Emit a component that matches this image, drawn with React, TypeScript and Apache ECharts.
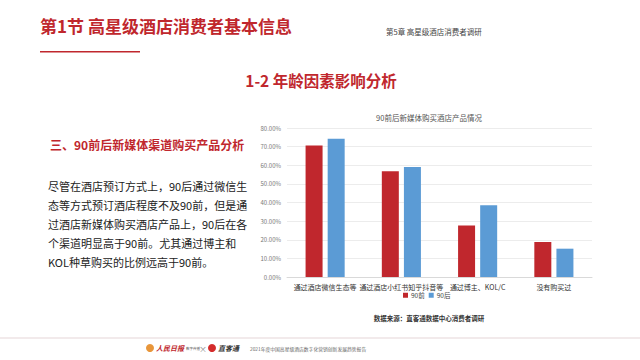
import React, { useEffect, useRef } from "react";
import * as echarts from "echarts";

const categories = ["通过酒店微信生态等", "通过酒店小红书知乎抖音等", "通过博主、KOL/C", "没有购买过"];
const seriesNames = ["90前", "90后"];
const before90 = [70.6, 56.8, 27.6, 18.8];
const after90 = [74.2, 59.1, 38.5, 15.2];
const yTicks = { min: 0, max: 80, interval: 10 };

const paragraph = [
  "尽管在酒店预订方式上，90后通过微信生",
  "态等方式预订酒店程度不及90前，但是通",
  "过酒店新媒体购买酒店产品上，90后在各",
  "个渠道明显高于90前。尤其通过博主和",
  "KOL种草购买的比例远高于90前。",
];

const RED = "#c0272d";
const BLUE = "#5b9bd5";
const FONT = "'Noto Sans CJK SC', 'Noto Sans', sans-serif";

export default function App() {
  const ref = useRef<HTMLDivElement>(null);
  useEffect(() => {
    if (!ref.current) return;
    const chart = echarts.init(ref.current, undefined, { renderer: "svg" });
    const paraTexts = paragraph.map((t, i) => ({
      type: "text",
      x: 48,
      y: 186 + i * 19,
      style: { text: t, font: `11px ${FONT}`, fill: "#222", textVerticalAlign: "middle" },
    }));
    chart.setOption({
      animation: false,
      backgroundColor: "#ffffff",
      textStyle: { fontFamily: FONT },
      grid: { left: 287, right: 48, top: 128, bottom: 83, containLabel: false },
      legend: {
        data: seriesNames,
        left: 403,
        top: 292,
        padding: 0,
        itemWidth: 5,
        itemHeight: 5,
        itemGap: 4,
        icon: "rect",
        textStyle: { fontSize: 6.5, color: "#444", fontFamily: FONT, padding: [0, 0, 0, -2] },
      },
      xAxis: {
        type: "category",
        data: categories,
        axisTick: { show: false },
        axisLine: { lineStyle: { color: "#d9d9d9" } },
        axisLabel: { fontSize: 7, color: "#333", margin: 6, interval: 0 },
      },
      yAxis: {
        type: "value",
        min: yTicks.min,
        max: yTicks.max,
        interval: yTicks.interval,
        axisLabel: {
          fontSize: 6,
          color: "#777",
          margin: 6,
          formatter: (v: number) => `${v.toFixed(2)}%`,
        },
        splitLine: { lineStyle: { color: "#ececec" } },
      },
      series: [
        {
          name: seriesNames[0],
          type: "bar",
          data: before90,
          itemStyle: { color: RED },
          barWidth: 17,
          barGap: "30%",
        },
        {
          name: seriesNames[1],
          type: "bar",
          data: after90,
          itemStyle: { color: BLUE },
          barWidth: 17,
          barGap: "30%",
        },
      ],
      graphic: [
        {
          type: "text",
          x: 40,
          y: 25,
          style: { text: "第1节 高星级酒店消费者基本信息", font: `bold 17px ${FONT}`, fill: RED, textVerticalAlign: "middle" },
        },
        {
          type: "rect",
          shape: { x: 40, y: 51, width: 100, height: 1.5 },
          style: { fill: RED },
        },
        {
          type: "text",
          x: 386,
          y: 31,
          style: { text: "第5章 高星级酒店消费者调研", font: `7.5px ${FONT}`, fill: "#444", textVerticalAlign: "middle" },
        },
        {
          type: "text",
          x: 321,
          y: 80,
          style: {
            text: "1-2 年龄因素影响分析",
            font: `bold 15.5px ${FONT}`,
            fill: RED,
            textAlign: "center",
            textVerticalAlign: "middle",
          },
        },
        {
          type: "text",
          x: 50,
          y: 144,
          style: { text: "三、90前后新媒体渠道购买产品分析", font: `bold 12px ${FONT}`, fill: RED, textVerticalAlign: "middle" },
        },
        ...paraTexts,
        {
          type: "text",
          x: 429,
          y: 117,
          style: {
            text: "90前后新媒体购买酒店产品情况",
            font: `7.5px ${FONT}`,
            fill: "#555",
            textAlign: "center",
            textVerticalAlign: "middle",
          },
        },
        {
          type: "text",
          x: 429,
          y: 318,
          style: {
            text: "数据来源：直客通数据中心消费者调研",
            font: `bold 6.5px ${FONT}`,
            fill: "#333",
            textAlign: "center",
            textVerticalAlign: "middle",
          },
        },
        {
          type: "rect",
          shape: { x: 0, y: 337.5, width: 640, height: 1 },
          style: { fill: "#e6d6d8" },
        },
        {
          type: "circle",
          shape: { cx: 150, cy: 348, r: 4 },
          style: { fill: "#e8963a" },
        },
        {
          type: "text",
          x: 156,
          y: 348,
          style: { text: "人民日报", font: `italic bold 7px ${FONT}`, fill: "#c0272d", textVerticalAlign: "middle" },
        },
        {
          type: "text",
          x: 186,
          y: 348,
          style: { text: "数字传播", font: `3.5px ${FONT}`, fill: "#555", textVerticalAlign: "middle" },
        },
        {
          type: "text",
          x: 203,
          y: 348,
          style: { text: "×", font: `8px ${FONT}`, fill: "#888", textAlign: "center", textVerticalAlign: "middle" },
        },
        {
          type: "circle",
          shape: { cx: 212, cy: 348, r: 4 },
          style: { fill: "#d42b2b" },
        },
        {
          type: "text",
          x: 218,
          y: 348,
          style: { text: "直客通", font: `italic bold 7px ${FONT}`, fill: "#333", textVerticalAlign: "middle" },
        },
        {
          type: "text",
          x: 250,
          y: 348,
          style: {
            text: "2021年度中国高星级酒店数字化营销创新发展趋势报告",
            font: `4.8px ${FONT}`,
            fill: "#666",
            textVerticalAlign: "middle",
          },
        },
      ],
    });
    return () => chart.dispose();
  }, []);
  return (
    <div
      ref={ref}
      style={{ position: "absolute", left: 0, top: 0, width: 640, height: 360 }}
    />
  );
}
